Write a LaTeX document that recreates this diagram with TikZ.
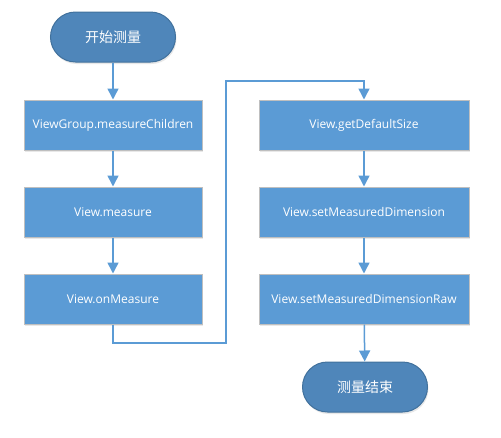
\documentclass[tikz,border=0pt]{standalone}
\usepackage{fontspec}
\setmainfont{Open Sans}
\newfontfamily\cjk{Noto Sans CJK SC}
\usetikzlibrary{arrows.meta,shadows}

\definecolor{boxblue}{HTML}{5B9BD5}
\definecolor{termblue}{HTML}{4F86BA}
\definecolor{termline}{HTML}{41719C}
\definecolor{boxline}{HTML}{BFBFBF}

\begin{document}
\begin{tikzpicture}[x=1pt, y=-1pt,
  proc/.style={draw=boxline, line width=1pt, fill=boxblue, text=white,
    minimum height=50pt, font=\fontsize{12}{14}\selectfont,
    drop shadow={opacity=0.18, shadow xshift=1pt, shadow yshift=-2pt}},
  term/.style={draw=termline, line width=1pt, fill=termblue, text=white,
    rounded corners=25pt, minimum width=125pt, minimum height=50pt,
    font=\fontsize{14}{16}\selectfont\cjk,
    drop shadow={opacity=0.18, shadow xshift=1pt, shadow yshift=-2pt}},
  arr/.style={draw=boxblue, line width=1.5pt, -{Triangle[length=11pt, width=11pt]}}]
  \useasboundingbox (0,0) rectangle (501,437);
  % left column
  \node[term] (start) at (113,37) {开始测量};
  \node[proc, minimum width=178pt] (mc) at (113,125) {ViewGroup.measureChildren};
  \node[proc, minimum width=178pt] (ms) at (113,212) {View.measure};
  \node[proc, minimum width=178pt] (om) at (113,299) {View.onMeasure};
  % right column
  \node[proc, minimum width=210pt] (gds) at (364,125) {View.getDefaultSize};
  \node[proc, minimum width=210pt] (smd) at (364,212) {View.setMeasuredDimension};
  \node[proc, minimum width=210pt] (smdr) at (364,299) {View.setMeasuredDimensionRaw};
  \node[term] (stop) at (365,387) {测量结束};
  % bends
  \coordinate (turnA) at (226,343);
  \coordinate (turnB) at (226,81);
  \draw[arr] (start) -- (mc);
  \draw[arr] (mc) -- (ms);
  \draw[arr] (ms) -- (om);
  \draw[arr] (om.south) |- (turnA) -- (turnB) -| (gds.north);
  \draw[arr] (gds) -- (smd);
  \draw[arr] (smd) -- (smdr);
  \draw[arr] (smdr) -- (stop);
\end{tikzpicture}
\end{document}
